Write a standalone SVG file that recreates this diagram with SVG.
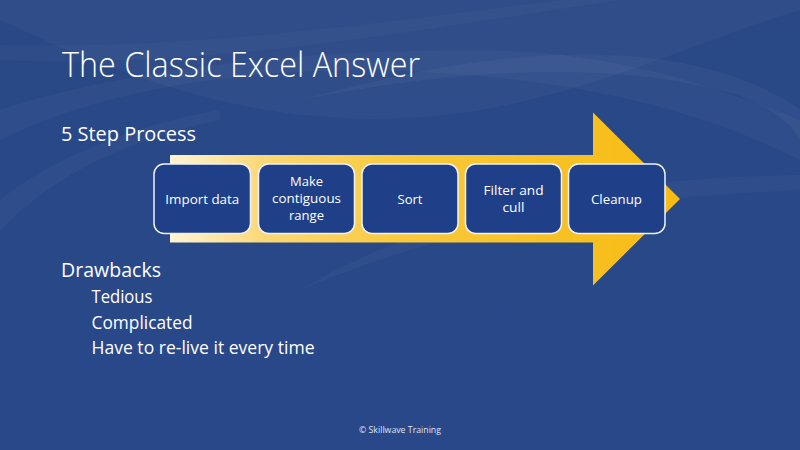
<svg xmlns="http://www.w3.org/2000/svg" width="800" height="450" viewBox="0 0 800 450">
<defs>
<linearGradient id="bg" x1="0" y1="0" x2="0" y2="1">
<stop offset="0" stop-color="#2a4886"/>
<stop offset="1" stop-color="#29488a"/>
</linearGradient>
<linearGradient id="arrowGrad" x1="170" y1="0" x2="680" y2="0" gradientUnits="userSpaceOnUse">
<stop offset="0" stop-color="#fff4d6"/>
<stop offset="0.18" stop-color="#fbd878"/>
<stop offset="0.45" stop-color="#f9c93c"/>
<stop offset="1" stop-color="#f7bb12"/>
</linearGradient>
<style>
.t{fill:#ffffff;font-family:"Open Sans","Noto Sans","Liberation Sans",sans-serif}
.box{fill:#1f3f88;stroke:#eef2fb;stroke-width:1.5}
.bt{fill:#ffffff;font-family:"Open Sans","Noto Sans","Liberation Sans",sans-serif;font-size:13px;text-anchor:middle}
.wave{fill:#ffffff}
</style>
</defs>
<rect width="800" height="450" fill="url(#bg)"/>
<g id="background-waves">
<path class="wave" opacity="0.03" d="M0,20 C150,90 300,140 480,110 C600,90 700,40 800,10 L800,0 L0,0 Z"/>
<path class="wave" opacity="0.03" d="M0,140 C120,80 300,60 470,75 C620,88 720,120 800,160 L800,120 C700,80 600,50 470,50 C300,50 120,70 0,110 Z"/>
<path class="wave" opacity="0.035" d="M300,100 C450,70 600,60 720,90 C760,100 790,120 800,140 L800,110 C760,80 680,50 560,55 C450,60 380,80 300,100 Z"/>
<path class="wave" opacity="0.03" d="M0,230 C60,170 130,140 220,120 L220,110 C130,125 50,160 0,200 Z"/>
<path class="wave" opacity="0.03" d="M300,290 C420,240 560,200 800,190 L800,175 C560,180 420,220 300,290 Z"/>
<path class="wave" opacity="0.025" d="M0,60 C200,70 420,30 620,0 L560,0 C400,20 200,50 0,45 Z"/>
</g>
<g id="title">
<text class="t" x="62" y="77" font-size="34" font-weight="300" textLength="358" lengthAdjust="spacingAndGlyphs">The Classic Excel Answer</text>
</g>
<g id="subtitle">
<text class="t" x="61" y="141" font-size="20" textLength="135" lengthAdjust="spacingAndGlyphs">5 Step Process</text>
</g>
<g id="arrow">
<path d="M170,155 L593,155 L593,112.5 L680,199 L593,285.5 L593,242.5 L170,242.5 Z" fill="url(#arrowGrad)"/>
</g>
<g id="step1">
<rect class="box" x="154" y="164" width="96.5" height="69.5" rx="10"/>
<text class="bt" x="202.3" y="203.5" textLength="74" lengthAdjust="spacingAndGlyphs">Import data</text>
</g>
<g id="step2">
<rect class="box" x="258.5" y="164" width="96" height="69.5" rx="10"/>
<text class="bt" x="306.5" y="186" textLength="33" lengthAdjust="spacingAndGlyphs">Make</text>
<text class="bt" x="306.5" y="203" textLength="69" lengthAdjust="spacingAndGlyphs">contiguous</text>
<text class="bt" x="306.5" y="220" textLength="35" lengthAdjust="spacingAndGlyphs">range</text>
</g>
<g id="step3">
<rect class="box" x="362" y="164" width="96" height="69.5" rx="10"/>
<text class="bt" x="410" y="203.5" textLength="25" lengthAdjust="spacingAndGlyphs">Sort</text>
</g>
<g id="step4">
<rect class="box" x="465.5" y="164" width="96" height="69.5" rx="10"/>
<text class="bt" x="513.5" y="194.5" textLength="60" lengthAdjust="spacingAndGlyphs">Filter and</text>
<text class="bt" x="513.5" y="211.5" textLength="22" lengthAdjust="spacingAndGlyphs">cull</text>
</g>
<g id="step5">
<rect class="box" x="568.5" y="164" width="96.5" height="69.5" rx="10"/>
<text class="bt" x="616.5" y="203.5" textLength="51" lengthAdjust="spacingAndGlyphs">Cleanup</text>
</g>
<g id="connectors"></g>
<g id="drawbacks">
<text class="t" x="61" y="277" font-size="20" textLength="100" lengthAdjust="spacingAndGlyphs">Drawbacks</text>
<text class="t" x="91.5" y="303" font-size="18" textLength="61" lengthAdjust="spacingAndGlyphs">Tedious</text>
<text class="t" x="91.5" y="328.5" font-size="18" textLength="101" lengthAdjust="spacingAndGlyphs">Complicated</text>
<text class="t" x="91.5" y="354" font-size="18" textLength="223" lengthAdjust="spacingAndGlyphs">Have to re-live it every time</text>
</g>
<g id="footer">
<text x="359" y="433" font-size="9.5" fill="#dde4f3" font-family="'Open Sans','Noto Sans',sans-serif" textLength="82" lengthAdjust="spacingAndGlyphs">© Skillwave Training</text>
</g>
</svg>
